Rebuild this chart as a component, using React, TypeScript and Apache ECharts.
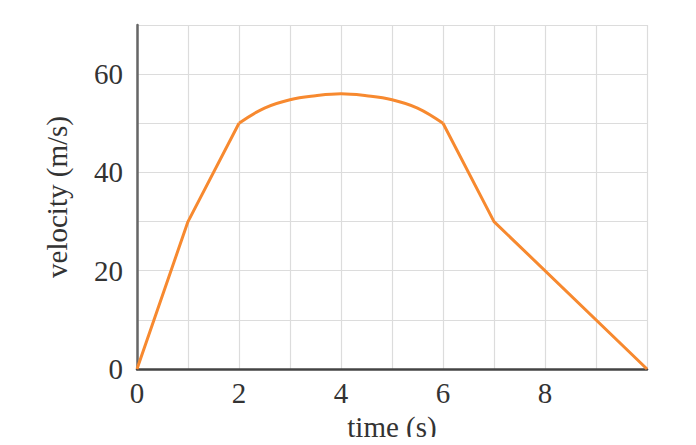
import React, { useEffect, useRef } from "react";
import * as echarts from "echarts";

const riseTimes = [0, 1, 2];
const riseVelocities = [0, 30, 50];
const curveTimes = [2, 2.5, 3, 3.5, 4, 4.5, 5, 5.5, 6];
const curveVelocities = [50, 53.1, 54.8, 55.6, 56, 55.6, 54.8, 53.1, 50];
const fallTimes = [6, 7, 10];
const fallVelocities = [50, 30, 0];
const xTickLabels = [0, 2, 4, 6, 8];
const yTickLabels = [0, 20, 40, 60];

const pairs = (xs: number[], ys: number[]) => xs.map((x, i) => [x, ys[i]]);

const FONT = "Liberation Serif";
const SIZE = 29;
const TEXT = "#333333";
const LINE = "#f7892f";

export default function App() {
  const ref = useRef<HTMLDivElement>(null);
  useEffect(() => {
    if (!ref.current) return;
    const chart = echarts.init(ref.current, undefined, { renderer: "svg" });
    const lineSeries = (data: number[][], smooth: boolean | number) => ({
      type: "line",
      data,
      smooth,
      showSymbol: false,
      symbol: "none",
      lineStyle: { color: LINE, width: 3 },
      z: 5,
    });
    chart.setOption({
      animation: false,
      backgroundColor: "#ffffff",
      grid: { left: 137, right: 49, top: 25, bottom: 76, outerBoundsMode: "none", containLabel: false },
      xAxis: {
        type: "value",
        min: 0,
        max: 10,
        interval: 1,
        name: "time (s)",
        nameLocation: "middle",
        nameGap: 43,
        nameTextStyle: { fontFamily: FONT, fontSize: SIZE, color: TEXT },
        axisLine: { show: true, onZero: false, lineStyle: { color: "#444444", width: 2.5 } },
        axisTick: { show: false },
        axisLabel: {
          fontFamily: FONT,
          fontSize: SIZE,
          color: TEXT,
          margin: 9,
          formatter: (v: number) => (xTickLabels.includes(v) ? String(v) : ""),
        },
        splitLine: { show: true, lineStyle: { color: "#dcdcdc", width: 1.2 } },
      },
      yAxis: {
        type: "value",
        min: 0,
        max: 70,
        interval: 10,
        name: "velocity (m/s)",
        nameLocation: "middle",
        nameGap: 66,
        nameTextStyle: { fontFamily: FONT, fontSize: SIZE, color: TEXT },
        axisLine: { show: true, lineStyle: { color: "#666666", width: 2.5 } },
        axisTick: { show: false },
        axisLabel: {
          fontFamily: FONT,
          fontSize: SIZE,
          color: TEXT,
          margin: 14,
          formatter: (v: number) => (yTickLabels.includes(v) ? String(v) : ""),
        },
        splitLine: { show: true, lineStyle: { color: "#dcdcdc", width: 1.2 } },
      },
      series: [
        lineSeries(pairs(riseTimes, riseVelocities), false),
        lineSeries(pairs(curveTimes, curveVelocities), 0.4),
        lineSeries(pairs(fallTimes, fallVelocities), false),
      ],
    });
    return () => chart.dispose();
  }, []);
  return <div ref={ref} style={{ width: 696, height: 445, margin: -8 }} />;
}
